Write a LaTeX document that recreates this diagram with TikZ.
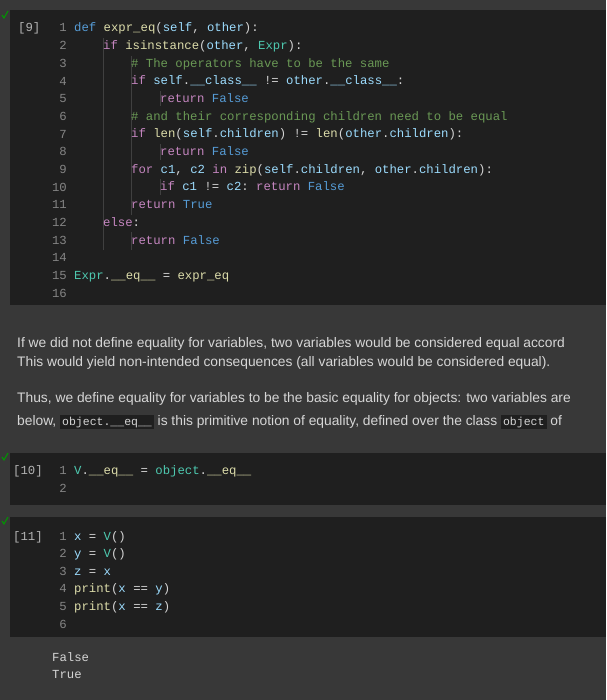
\documentclass[tikz,border=0pt]{standalone}
\usepackage{fontspec}
\setmainfont{Liberation Sans}
\setmonofont{Liberation Mono}
\definecolor{bgout}{HTML}{383838}
\definecolor{bgcell}{HTML}{1F1F1F}
\definecolor{tx}{HTML}{D4D4D4}
\definecolor{kw}{HTML}{569CD6}
\definecolor{fn}{HTML}{DCDCAA}
\definecolor{vr}{HTML}{9CDCFE}
\definecolor{ct}{HTML}{C586C0}
\definecolor{cm}{HTML}{6A9955}
\definecolor{cl}{HTML}{4EC9B0}
\definecolor{ln}{HTML}{858585}
\definecolor{md}{HTML}{D6D6D6}
\definecolor{guide}{HTML}{404040}
\newcommand{\K}[1]{\textcolor{kw}{#1}}
\newcommand{\F}[1]{\textcolor{fn}{#1}}
\newcommand{\V}[1]{\textcolor{vr}{#1}}
\newcommand{\C}[1]{\textcolor{ct}{#1}}
\newcommand{\M}[1]{\textcolor{cm}{#1}}
\newcommand{\T}[1]{\textcolor{cl}{#1}}
\newcommand{\ic}[1]{\tikz[baseline=(w.base)]\node[fill=bgcell,inner xsep=2pt,inner ysep=1.5pt,font=\ttfamily\fontsize{11.5}{12}\selectfont,text=tx](w){#1};}
\begin{document}
\begin{tikzpicture}[x=1pt,y=-1pt,
  code/.style={anchor=base west,inner sep=0pt,text=tx,font=\ttfamily\fontsize{12.3}{14}\selectfont},
  lnum/.style={anchor=base east,inner sep=0pt,text=ln,font=\ttfamily\fontsize{12.3}{14}\selectfont},
  cnt/.style={anchor=base west,inner sep=0pt,text=tx!85!black,font=\ttfamily\fontsize{12.3}{14}\selectfont},
  mdt/.style={anchor=base west,inner sep=0pt,text=md,font=\fontsize{13.8}{16}\selectfont},
  gd/.style={guide,line width=0.8pt},
  chk/.style={green!60!black,line width=1pt}]
\useasboundingbox (0,0) rectangle (606,700);
\fill[bgout] (0,0) rectangle (606,700);
\fill[bgcell] (10,10) rectangle (606,305);
\fill[bgcell] (10,453) rectangle (606,505);
\fill[bgcell] (10,517) rectangle (606,637);
\draw[chk] (2,15)--(4,18)--(8,11);
\draw[chk] (2,457)--(4,460)--(8,453);
\draw[chk] (2,521)--(4,524)--(8,517);
\node[cnt] (c9) at (18,32) {[9]};
\node[cnt] (c10) at (13,474) {[10]};
\node[cnt] (c11) at (13,540) {[11]};
% indent guides
\draw[gd] (103,38)--(103,250);
\draw[gd] (131,56)--(131,215);
\draw[gd] (131,232)--(131,250);
\draw[gd] (160,91)--(160,106);
\draw[gd] (160,144)--(160,160);
\draw[gd] (160,179)--(160,195);
\foreach \i in {1,...,16}{\node[lnum] (n\i) at (67,{32+(\i-1)*17.67}) {\i};}
\node[code] (a1) at (74,32) {\K{def} \F{expr\_eq}(\V{self}, \V{other}):};
\node[code] (a2) at (103,49.67) {\C{if} \F{isinstance}(\V{other}, \T{Expr}):};
\node[code] (a3) at (131,67.3) {\M{\# The operators have to be the same}};
\node[code] (a4) at (131,85) {\C{if} \V{self}.\V{\_\_class\_\_} != \V{other}.\V{\_\_class\_\_}:};
\node[code] (a5) at (160,102.7) {\C{return} \K{False}};
\node[code] (a6) at (131,120.3) {\M{\# and their corresponding children need to be equal}};
\node[code] (a7) at (131,138) {\C{if} \F{len}(\V{self}.\V{children}) != \F{len}(\V{other}.\V{children}):};
\node[code] (a8) at (160,155.7) {\C{return} \K{False}};
\node[code] (a9) at (131,173.4) {\C{for} \V{c1}, \V{c2} \C{in} \F{zip}(\V{self}.\V{children}, \V{other}.\V{children}):};
\node[code] (a10) at (160,191) {\C{if} \V{c1} != \V{c2}: \C{return} \K{False}};
\node[code] (a11) at (131,208.7) {\C{return} \K{True}};
\node[code] (a12) at (103,226.4) {\C{else}:};
\node[code] (a13) at (131,244) {\C{return} \K{False}};
\node[code] (a15) at (74,279.4) {\T{Expr}.\F{\_\_eq\_\_} = \F{expr\_eq}};
% markdown
\node[mdt] (m1) at (17,347) {If we did not define equality for variables, two variables would be considered equal accord};
\node[mdt] (m2) at (17,366) {This would yield non-intended consequences (all variables would be considered equal).};
\node[mdt] (m3) at (17,402) {Thus, we define equality for variables to be the basic equality for objects: two variables are};
\node[mdt] (m4) at (17,425) {below, \ic{object.\_\_eq\_\_} is this primitive notion of equality, defined over the class \ic{object} of};
% cell 10
\node[lnum] (p1) at (67,474) {1};
\node[lnum] (p2) at (67,492) {2};
\node[code] (b1) at (74,474) {\T{V}.\F{\_\_eq\_\_}  = \T{object}.\F{\_\_eq\_\_}};
% cell 11
\foreach \i in {1,...,6}{\node[lnum] (q\i) at (67,{540+(\i-1)*17.6}) {\i};}
\node[code] (d1) at (74,540) {\V{x} = \T{V}()};
\node[code] (d2) at (74,557.6) {\V{y} = \T{V}()};
\node[code] (d3) at (74,575.2) {\V{z} = \V{x}};
\node[code] (d4) at (74,592.8) {\F{print}(\V{x} == \V{y})};
\node[code] (d5) at (74,610.4) {\F{print}(\V{x} == \V{z})};
\node[code] (o1) at (52,661) {False};
\node[code] (o2) at (52,678) {True};
\end{tikzpicture}
\end{document}
